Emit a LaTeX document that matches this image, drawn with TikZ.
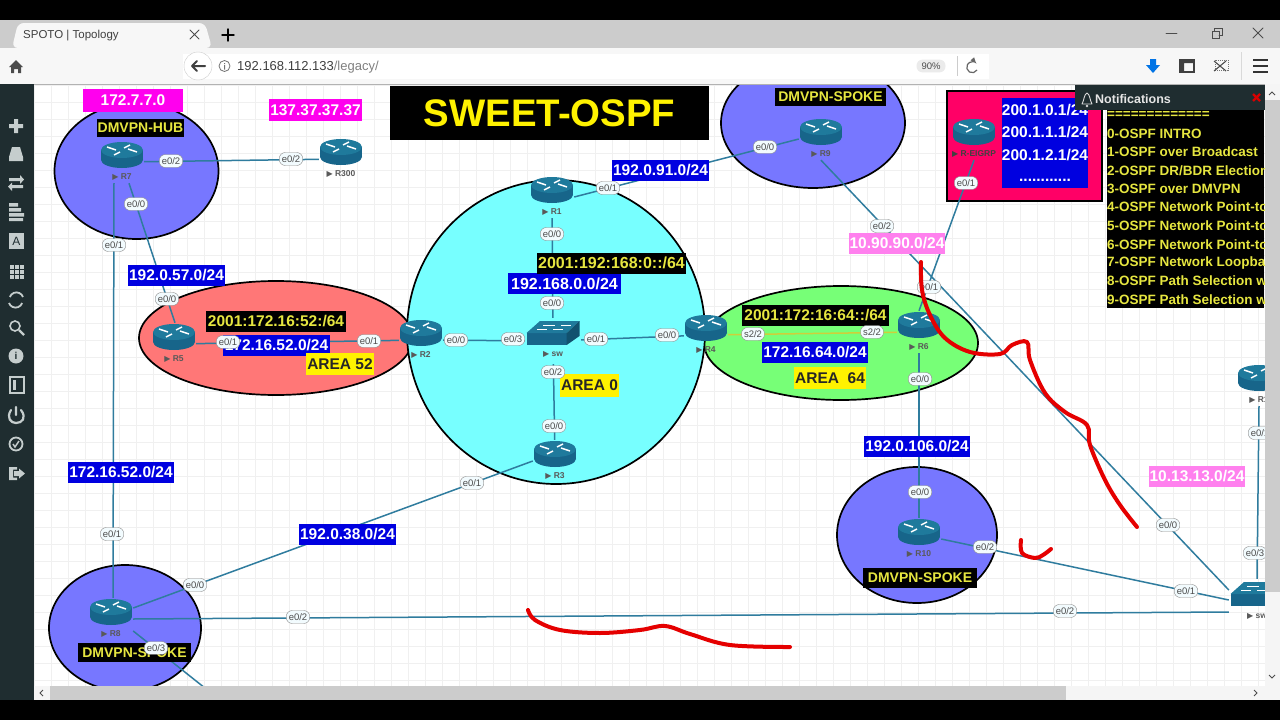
\documentclass[tikz,border=0pt]{standalone}
\usepackage{fontspec}
\setmainfont{Liberation Sans}
\newfontfamily\symfont{DejaVu Sans}
\definecolor{linkteal}{HTML}{2F7C9E}
\definecolor{rtrtop}{HTML}{1F7A9C}
\definecolor{rtrside}{HTML}{17658A}
\definecolor{panelink}{HTML}{1F2D30}
\definecolor{hubblue}{HTML}{7777FF}
\definecolor{areared}{HTML}{FF7777}
\definecolor{areacyan}{HTML}{77FFFF}
\definecolor{areagreen}{HTML}{77FF77}
\definecolor{netblue}{HTML}{0000E0}
\definecolor{netmag}{HTML}{FF00EE}
\definecolor{netpink}{HTML}{FF80EE}
\definecolor{pennyyel}{HTML}{E6E640}
\definecolor{eigrppink}{HTML}{FF0066}
\definecolor{iconlight}{HTML}{C5CDCD}
\begin{document}
\begin{tikzpicture}[
  x=1pt, y=-1pt,
  link/.style={draw=linkteal, line width=1.5pt},
  area/.style={draw=black, line width=1.7pt},
  hostbox/.style={minimum width=44pt, minimum height=42pt, inner sep=0pt, yshift=-7pt},
  swbox/.style={minimum width=56pt, minimum height=46pt, inner sep=0pt, yshift=-8pt},
  hostlbl/.style={font=\fontsize{8.5}{9}\selectfont\bfseries, text=black!65, inner sep=0pt},
  pill/.style={draw=black!45, fill=white!95!cyan, rounded corners=6pt, inner xsep=2.5pt, inner ysep=3pt,
    font=\fontsize{9.5}{10}\selectfont, text=black!70},
  tag/.style={font=\fontsize{15.5}{16}\selectfont\bfseries, inner ysep=0pt, inner xsep=1pt, minimum height=21pt},
  bluetag/.style={tag, fill=netblue, text=white},
  blacktag/.style={tag, fill=black, text=pennyyel},
  magtag/.style={tag, fill=netmag, text=white},
  pinktag/.style={tag, fill=netpink, text=white},
  yeltag/.style={tag, fill=yellow, text=black!85},
  scribble/.style={draw=red!90!black, line width=4pt, line cap=round, line join=round},
  tabicon/.style={draw=black!70, line width=1.2pt, line cap=round},
  sideicon/.style={fill=iconlight, draw=none},
  listline/.style={font=\fontsize{13.5}{14}\selectfont\bfseries, text=pennyyel, inner sep=0pt, anchor=west},
  routericon/.pic={
    \fill[rtrside] (-21,-5) rectangle (21,5);
    \fill[rtrside] (0,5) ellipse [x radius=21, y radius=8];
    \fill[rtrtop] (0,-5) ellipse [x radius=21, y radius=8];
    \draw[white, line width=1.5pt] (-15,-8) -- (-6,-5) (15,-3) -- (6,-6) (-8,0) -- (-2,-3) (8,-10) -- (2,-7);
  },
  switchicon/.pic={
    \fill[rtrside] (-26.5,0) rectangle (13.7,12);
    \fill[rtrtop] (-26.5,0) -- (-13,-12) -- (26.5,-12) -- (13.7,0) -- cycle;
    \fill[rtrside!80!black] (13.7,0) -- (26.5,-12) -- (26.5,3) -- (13.7,12) -- cycle;
    \draw[white, line width=.8pt] (-10,-8) -- (2,-8) (8,-8) -- (18,-8) (-16,-4) -- (-6,-4) (0,-4) -- (10,-4);
  },
]

% ── Frame and canvas ──────────────────────────────────────────────────────────
\useasboundingbox (0,0) rectangle (1280,720);
\fill[black] (0,0) rectangle (1280,720);
\fill[white] (0,84) rectangle (1280,700);

\begin{scope}
\clip (34,84) rectangle (1265,686);
\draw[black!6, line width=.4pt] (34,84) grid[step=17pt] (1265,686);

% ── Areas ─────────────────────────────────────────────────────────────────────
\fill[area, fill=hubblue] (136.5,171) ellipse [x radius=82, y radius=68];
\fill[area, fill=hubblue] (813,123) ellipse [x radius=92, y radius=65];
\fill[area, fill=areared] (276,338) ellipse [x radius=137, y radius=57];
\fill[area, fill=areagreen] (841,343) ellipse [x radius=137, y radius=57];
\fill[area, fill=areacyan] (556,332) ellipse [x radius=149, y radius=152];
\fill[area, fill=hubblue] (917,535) ellipse [x radius=80, y radius=68];
\fill[area, fill=hubblue] (125,628) ellipse [x radius=76, y radius=63];
\fill[draw=black, line width=1.5pt, fill=eigrppink] (947,91) rectangle (1102,201);
\fill[netblue] (1002,98) rectangle (1088,188);

% ── Hosts (the boxes stay empty, links end on their borders) ──────────────────
\foreach \nm/\x/\y/\lbl in {R7/122/155/R7, R300/341/152/R300, R1/552/190/R1, R2/421/333/R2,
    R5/174/337/R5, R3/555/454/R3, R4/706/328/R4, R6/919/325/R6, R9/821/132/R9,
    R10/919/532/R10, R8/111/612/R8, EIGRP/974/132/R-EIGRP, Redge/1259/378/R1}
  \node[hostbox] (\nm) at (\x,\y) {};
\node[swbox] (sw) at (553,333) {};
\node[swbox] (swedge) at (1257,594) {};
\coordinate (R8stub) at (215,696);

% ── Links ─────────────────────────────────────────────────────────────────────
\draw[link] (R7) -- (R300);
\draw[link] ([xshift=7pt]R7.south) -- ([xshift=1pt]R5.north);
\draw[link] ([xshift=-8pt]R7.south) -- ([xshift=2pt]R8.north);
\draw[link] (R5) -- (R2);
\draw[link] (R2) -- (sw);
\draw[link] (sw) -- (R4);
\draw[link] (R1) -- (sw);
\draw[link] (sw) -- (R3);
\draw[link] (R3.west) -- ([yshift=11pt]R8.east);
\draw[link] (R1.east) -- (R9.west);
\draw[link] (R9.south) -- ([yshift=12pt]swedge.west);
\draw[link] (EIGRP.south) -- (R6.north);
\draw[link] (R6) -- (R10);
\draw[link] (R10.east) -- ([yshift=2pt]swedge.west);
\draw[link] (R8.east) -- ([yshift=-10pt]swedge.west);
\draw[link] ([yshift=-12pt]R8.east) -- (R8stub);
\draw[link] (Redge.south) -- (swedge.north);
\draw[link, draw=pennyyel!90!black] (R4) -- (R6);

% ── Network tags ──────────────────────────────────────────────────────────────
\node[blacktag, minimum width=319pt, minimum height=54pt, font=\fontsize{38.4}{38}\selectfont\bfseries, text=yellow]
  (title) at (549.5,113) {SWEET-OSPF};
\node[magtag, minimum width=100pt, minimum height=23pt] (loopR7) at (133,100) {172.7.7.0};
\node[magtag, minimum width=93pt, minimum height=22pt] (loopR300) at (315.5,110) {137.37.37.37};
\node[blacktag, minimum width=85pt, minimum height=18pt, font=\fontsize{14}{14}\selectfont\bfseries] (hub) at (140.5,128) {DMVPN-HUB};
\node[blacktag, minimum width=111pt, minimum height=18pt, font=\fontsize{14}{14}\selectfont\bfseries] (spokeR9) at (830.5,97) {DMVPN-SPOKE};
\node[blacktag, minimum width=114pt, minimum height=20pt, font=\fontsize{14}{14}\selectfont\bfseries] (spokeR10) at (920,578) {DMVPN-SPOKE};
\node[blacktag, minimum width=113pt, minimum height=19pt, font=\fontsize{14}{14}\selectfont\bfseries] (spokeR8) at (134.5,652.5) {DMVPN-SPOKE};
\node[bluetag, minimum width=97pt] (net91) at (660.5,170.5) {192.0.91.0/24};
\node[bluetag, minimum width=93pt] (net57) at (176.5,275.5) {192.0.57.0/24};
\node[bluetag, minimum width=102pt] (net52w) at (121,472) {172.16.52.0/24};
\node[bluetag, minimum width=97pt] (net38) at (347.5,534) {192.0.38.0/24};
\node[bluetag, minimum width=113pt, font=\fontsize{16}{16}\selectfont\bfseries] (net168) at (564.5,283.5) {192.168.0.0/24};
\node[blacktag, minimum width=147pt, font=\fontsize{16}{16}\selectfont\bfseries] (six168) at (611.5,263) {2001:192:168:0::/64};
\node[blacktag, minimum width=140pt] (six52) at (276,321) {2001:172.16:52:/64};
\node[bluetag, minimum width=107pt] (net52) at (276.5,345.5) {172.16.52.0/24};
\node[yeltag, minimum width=68pt, minimum height=22pt] (area52) at (340,364) {AREA 52};
\node[yeltag, minimum width=57pt, minimum height=23pt] (area0) at (589.5,385.5) {AREA 0};
\node[blacktag, minimum width=147pt] (six64) at (815.5,315.5) {2001:172:16:64::/64};
\node[bluetag, minimum width=106pt] (net64) at (815,352) {172.16.64.0/24};
\node[yeltag, minimum width=72pt, minimum height=22pt] (area64) at (830,378) {AREA\ \ 64};
\node[pinktag, minimum width=94pt] (net90) at (897,243) {10.90.90.0/24};
\node[pinktag, minimum width=94pt] (net13) at (1197,476.5) {10.13.13.0/24};
\node[bluetag, minimum width=102pt] (net106) at (917,446) {192.0.106.0/24};
\node[tag, text=white] (ip0) at (1045,110) {200.1.0.1/24};
\node[tag, text=white] (ip1) at (1045,132.5) {200.1.1.1/24};
\node[tag, text=white] (ip2) at (1045,155) {200.1.2.1/24};
\node[tag, text=white] (ipdots) at (1045,180) {............};

% ── Interface pills ───────────────────────────────────────────────────────────
\foreach \px/\py/\txt [count=\i] in {171/161/{e0/2}, 291/159/{e0/2}, 136/204/{e0/0}, 167/299/{e0/0}, 114/245/{e0/1},
    112/534/{e0/1}, 228/342/{e0/1}, 369/341/{e0/1}, 456/340/{e0/0}, 513/339/{e0/3}, 596/339/{e0/1}, 667/335/{e0/0},
    552/234/{e0/0}, 552/303/{e0/0}, 553/372/{e0/2}, 554/426/{e0/0}, 472/483/{e0/1}, 195/585/{e0/0}, 608/188/{e0/1},
    765/147/{e0/0}, 753/334/{s2/2}, 872/332/{s2/2}, 882/226/{e0/2}, 1168/525/{e0/0}, 929/287/{e0/1}, 966/183/{e0/1},
    920/379/{e0/0}, 920/492/{e0/0}, 985/547/{e0/2}, 1186/591/{e0/1}, 298/617/{e0/2}, 1065/611/{e0/2}, 156/648/{e0/3},
    1260/433/{e0/1}, 1255/553/{e0/3}}
  \node[pill] (pill\i) at (\px,\py) {\txt};

% ── Host icons and captions ───────────────────────────────────────────────────
\foreach \nm/\x/\y/\lbl in {R7/122/155/R7, R300/341/152/R300, R1/552/190/R1, R2/421/333/R2,
    R5/174/337/R5, R3/555/454/R3, R4/706/328/R4, R6/919/325/R6, R9/821/132/R9,
    R10/919/532/R10, R8/111/612/R8, Redge/1259/378/R1} {
  \pic at (\x,\y) {routericon};
  \node[hostlbl] (\nm-lbl) at (\x,\y+22) {{\symfont\fontsize{8}{9}\selectfont ▶} \lbl};
}
\pic at (974,132) {routericon};
\node[hostlbl, text=black!75] (EIGRP-lbl) at (974,154) {{\symfont\fontsize{8}{9}\selectfont ▶} R-EIGRP};
\pic at (553,333) {switchicon};
\node[hostlbl] (sw-lbl) at (553,354) {{\symfont\fontsize{8}{9}\selectfont ▶} sw};
\pic at (1257,594) {switchicon};
\node[hostlbl] (swedge-lbl) at (1257,616) {{\symfont\fontsize{8}{9}\selectfont ▶} sw};

% ── Red pen strokes ───────────────────────────────────────────────────────────
\draw[scribble] plot[smooth, tension=.6] coordinates {(921,262) (922,290) (930,315) (945,338) (970,352)
  (1000,354) (1012,345) (1027,342) (1030,360) (1045,393) (1065,412) (1087,425) (1090,445) (1105,480)
  (1120,505) (1137,527)};
\draw[scribble] plot[smooth, tension=.6] coordinates {(1021,540) (1022,553) (1035,558) (1043,555) (1051,549)};
\draw[scribble] plot[smooth, tension=.6] coordinates {(528,610) (535,620) (560,630) (600,633) (640,630)
  (665,626) (690,634) (730,645) (790,647)};

% ── Lesson list ───────────────────────────────────────────────────────────────
\fill[black] (1107,110) rectangle (1264,308);
\begin{scope}
\clip (1107,110) rectangle (1264,308);
\foreach \ly/\txt [count=\i] in {115/=============, 134/0-OSPF INTRO, 152/1-OSPF over Broadcast,
    171/{2-OSPF DR/BDR Election}, 189/3-OSPF over DMVPN, 207/4-OSPF Network Point-to,
    226/5-OSPF Network Point-to, 245/6-OSPF Network Point-to, 263/7-OSPF Network Loopba,
    281/8-OSPF Path Selection w, 300/9-OSPF Path Selection w}
  \node[listline] (line\i) at (1107,\ly) {\txt};
\end{scope}
\end{scope}

% ── Notifications bar ─────────────────────────────────────────────────────────
\fill[panelink] (1075,85) rectangle (1267,110);
\node[font=\fontsize{12.5}{13}\selectfont\bfseries, text=white!90!black, anchor=west, inner sep=0pt] (notes) at (1095,99) {Notifications};
\draw[white!85!black, line width=.9pt, line join=round] (1082,104) .. controls (1084,101) and (1084,94) .. (1087,93) .. controls (1090,94) and (1090,101) .. (1092,104) -- cycle;
\fill[white!85!black] (1087,106) circle [radius=1.3];
\draw[red!85!black, line width=2.4pt] (1253,94) -- (1260,101) (1260,94) -- (1253,101);

% ── Browser bars ──────────────────────────────────────────────────────────────
\fill[black!20] (0,20) rectangle (1280,48);
\fill[black!3] (0,48) rectangle (1280,84);
\fill[black!3, rounded corners=6pt] (12,48) -- (18,23) -- (205,23) -- (212,48) -- cycle;
\draw[black!30, line width=.6pt] (0,84) -- (1280,84);
\node[font=\fontsize{11.5}{12}\selectfont, text=black!75, anchor=west, inner sep=0pt] (tabname) at (23,35.5) {SPOTO | Topology};
\draw[tabicon, line width=.8pt] (190,30) -- (199,39) (199,30) -- (190,39);
\draw[tabicon, draw=black, line width=1.4pt] (222,35) -- (234,35) (228,29) -- (228,41);
\draw[tabicon, line width=.8pt] (1166,33) -- (1177,33);
\draw[tabicon, line width=.8pt] (1212,31) rectangle (1219,38) (1214,31) -- (1214,28) -- (1222,28) -- (1222,35) -- (1219,35);
\draw[tabicon, line width=.8pt] (1253,28) -- (1263,38) (1263,28) -- (1253,38);

\fill[white] (183,54) rectangle (989,79);
\fill[white, draw=black!20] (198,66) circle [radius=14];
\draw[draw=black!75, line width=2pt, line cap=round, line join=round] (205,66) -- (192,66) (197,61) -- (192,66) -- (197,71);
\draw[black!55, line width=.8pt] (224.5,66) circle [radius=5.5];
\fill[black!55] (224,63) rectangle (225,64) (224,65) rectangle (225,69.5);
\node[font=\fontsize{13}{14}\selectfont, text=black!75, anchor=west, inner sep=0pt] (url) at (237,67) {192.168.112.133{\color{black!50}/legacy/}};
\node[fill=black!8, rounded corners=6pt, font=\fontsize{9.5}{10}\selectfont, text=black!70, inner xsep=5pt, inner ysep=3pt] (zoomlvl) at (931,66) {90\%};
\draw[black!20] (957,56) -- (957,76);
\draw[black!60, line width=1.2pt, -latex] (977,70) arc [start angle=30, end angle=320, radius=5.5];
\fill[black!70] (16,60) -- (23,67) -- (21,67) -- (21,73) -- (18,73) -- (18,69) -- (14,69) -- (14,73) -- (11,73) -- (11,67) -- (9,67) -- cycle;
\fill[blue!50!cyan!90!black] (1150,59) rectangle (1156,65) (1146,65) -- (1160,65) -- (1153,73) -- cycle;
\draw[black!75, line width=1.3pt] (1180,60) rectangle (1194,72);
\fill[black!75] (1180,60) rectangle (1194,63) (1180,60) rectangle (1184,72);
\draw[black!55, line width=1pt, densely dotted] (1215,60) rectangle (1228,70);
\draw[black!70, line width=1.1pt] (1214,61) -- (1226,71) (1214,71) -- (1226,61);
\draw[black!80, line width=2pt] (1253,60) -- (1268,60) (1253,66) -- (1268,66) (1253,72) -- (1268,72);
\draw[black!15] (1241,52) -- (1241,80);

% ── Scrollbars ────────────────────────────────────────────────────────────────
\fill[black!4] (34,686) rectangle (1265,700);
\fill[black!20] (50,686) rectangle (1066,700);
\fill[black!4] (1265,84) rectangle (1280,700);
\fill[black!20] (1265,100) rectangle (1280,592);
\draw[black!70, line width=1pt] (43,690) -- (40,693) -- (43,696) (1254,690) -- (1257,693) -- (1254,696);
\draw[black!70, line width=1pt] (1269,95) -- (1272,92) -- (1275,95) (1269,675) -- (1272,678) -- (1275,675);

% ── Side panel ────────────────────────────────────────────────────────────────
\fill[panelink] (0,84) rectangle (34,700);
\fill[sideicon] (14,119) rectangle (18,133) (9,124) rectangle (23,128);
\fill[sideicon] (12,147) -- (20,147) -- (23,157) -- (23,161) -- (9,161) -- (9,157) -- cycle;
\fill[sideicon] (9,178) -- (20,178) -- (20,175) -- (24,179.5) -- (20,184) -- (20,181) -- (9,181) -- cycle
  (23,185) -- (12,185) -- (12,182.5) -- (8,186.5) -- (12,191) -- (12,188) -- (23,188) -- cycle;
\fill[sideicon] (9,203) rectangle (18,206.5) (9,208) rectangle (21,211.5) (9,213) rectangle (24,216.5) (9,218) rectangle (23,221);
\fill[sideicon] (9,233) rectangle (24,249);
\node[font=\fontsize{12}{12}\selectfont, text=panelink, inner sep=0pt] (iconA) at (16.5,241) {A};
\foreach \gx in {9.5,14.5,19.5}
  \foreach \gy in {264.5,269.5,274.5}
    \fill[sideicon] (\gx,\gy) rectangle +(4,4);
\draw[iconlight, line width=1.8pt] (23,297) arc [start angle=-20, end angle=-160, radius=7] (9,303) arc [start angle=160, end angle=20, radius=7];
\draw[iconlight, line width=1.6pt] (15,326) circle [radius=5];
\draw[iconlight, line width=2.4pt] (19,330) -- (24,335);
\fill[sideicon] (16,356) circle [radius=7.5];
\node[font=\fontsize{10}{10}\selectfont\bfseries, text=panelink, inner sep=0pt] (iconi) at (16,356) {i};
\draw[iconlight, line width=1.3pt] (10,377) rectangle (24,393);
\fill[sideicon] (13,380) rectangle (16,390);
\draw[iconlight, line width=2.2pt, line cap=round] (11,410) .. controls (6,418) and (11,423) .. (16,423) .. controls (22,423) and (27,418) .. (21,410) (16,407) -- (16,415);
\draw[iconlight, line width=1.8pt] (16,444) circle [radius=6.5];
\draw[iconlight, line width=1.5pt] (13,444) -- (15,447) -- (19,441);
\fill[sideicon] (9,467) rectangle (13,480) (9,467) rectangle (17,469.5) (9,477.5) rectangle (17,480);
\fill[sideicon] (14,471) rectangle (19,476) (19,468.5) -- (25,473.5) -- (19,478.5) -- cycle;

\end{tikzpicture}
\end{document}
